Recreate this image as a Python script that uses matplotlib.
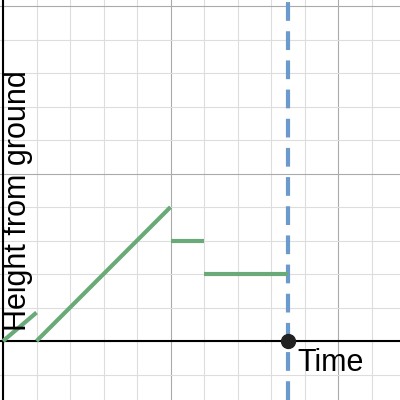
import matplotlib.pyplot as plt
import numpy as np

# segments (x0, y0, x1, y1)
seg_x0 = [0, 1, 5, 6]
seg_y0 = [0, 0, 3, 2]
seg_x1 = [1, 5, 6, 8.5]
seg_y1 = [0.85, 4, 3, 2]
t_mark = 8.5

plt.rcParams['font.family'] = ['Liberation Sans', 'DejaVu Sans']

fig = plt.figure(figsize=(4, 4), dpi=100)
ax = fig.add_axes([0, 0, 1, 1])
xmin, xmax = -0.09, 11.85
ymin, ymax = -1.76, 10.18
ax.set_xlim(xmin, xmax)
ax.set_ylim(ymin, ymax)

for v in np.arange(-1, 12):
    c = '#aaaaaa' if v % 5 == 0 else '#dddddd'
    ax.axvline(v, color=c, lw=0.8, zorder=0)
for v in np.arange(-1, 11):
    c = '#aaaaaa' if v % 5 == 0 else '#dddddd'
    ax.axhline(v, color=c, lw=0.8, zorder=0)
ax.axhline(0, color='black', lw=1.5, zorder=1)
ax.axvline(0, color='black', lw=1.5, zorder=1)

for x0, y0, x1, y1 in zip(seg_x0, seg_y0, seg_x1, seg_y1):
    ax.plot([x0, x1], [y0, y1], color='#6aaa78', lw=3, solid_capstyle='butt', zorder=3)

ax.axvline(t_mark, color='#6a9bcc', lw=3, dashes=(4.5, 2.5), zorder=2)
ax.plot([t_mark], [0], 'o', color='#222222', ms=10, zorder=4)

ax.text(0.45, 0.3, 'Height from ground', rotation=90, fontsize=22, va='bottom', ha='center')
ax.text(8.8, -0.2, 'Time', fontsize=22, va='top', ha='left')
ax.axis('off')
fig.savefig('out.png')
